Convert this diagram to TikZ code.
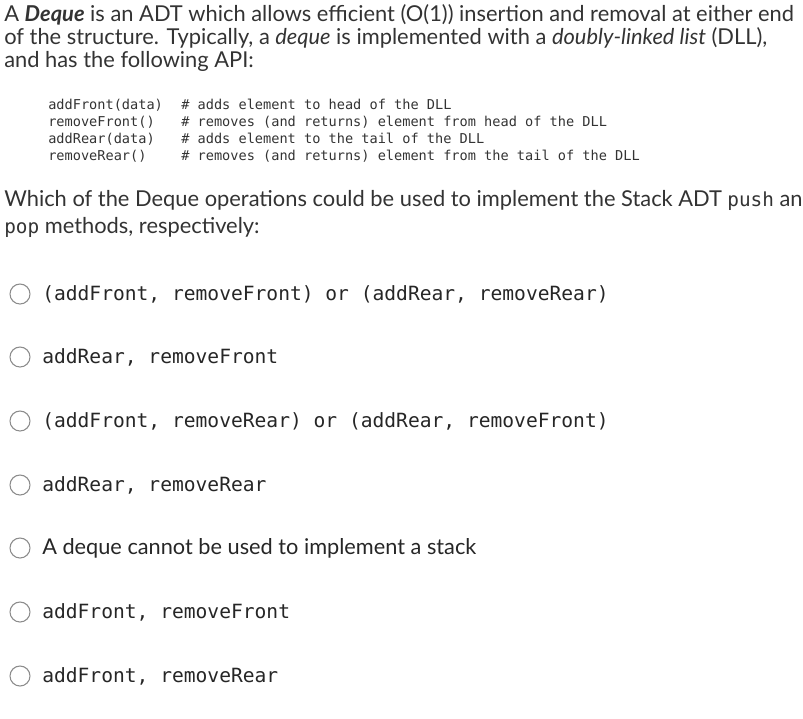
\documentclass[tikz,border=0pt]{standalone}
\usepackage{fontspec}
\setmainfont{Lato}
\setmonofont{DejaVu Sans Mono}
\newfontfamily\optmono{DejaVu Sans Mono}
\begin{document}
\begin{tikzpicture}[x=0.75pt,y=-0.75pt,
  body/.style={anchor=base west,inner sep=0pt,font=\fontsize{16.4}{19}\selectfont,text=black!80},
  code/.style={anchor=base west,inner sep=0pt,font=\ttfamily\fontsize{10.2}{12}\selectfont,text=black!80},
  opt/.style={anchor=base west,inner sep=0pt,font=\optmono\fontsize{14.7}{17}\selectfont,text=black!85},
  optt/.style={anchor=base west,inner sep=0pt,font=\fontsize{16.3}{19}\selectfont,text=black!85},
  radio/.style={circle,draw=black!45,line width=0.8pt,minimum size=15pt,inner sep=0pt}]
\useasboundingbox (0,0) rectangle (803,718);
\clip (0,0) rectangle (803,718);
\node[body] (l1) at (4,21) {A \textbf{\textit{Deque}} is an ADT which allows efficient (O(1)) insertion and removal at either end};
\node[body] (l2) at (4,44) {of the structure. Typically, a \textit{deque} is implemented with a \textit{doubly-linked list} (DLL),};
\node[body] (l3) at (4,67) {and has the following API:};
\node[code] (c1) at (48,109) {addFront(data)};
\node[code] (c2) at (48,126) {removeFront()};
\node[code] (c3) at (48,143) {addRear(data)};
\node[code] (c4) at (48,160) {removeRear()};
\node[code] (d1) at (181,109) {\# adds element to head of the DLL};
\node[code] (d2) at (181,126) {\# removes (and returns) element from head of the DLL};
\node[code] (d3) at (181,143) {\# adds element to the tail of the DLL};
\node[code] (d4) at (181,160) {\# removes (and returns) element from the tail of the DLL};
\node[body] (q1) at (4,206) {Which of the Deque operations could be used to implement the Stack ADT {\ttfamily\fontsize{14.5}{17}\selectfont push} and};
\node[body] (q2) at (4,233) {{\ttfamily\fontsize{14.5}{17}\selectfont pop} methods, respectively:};
\foreach \y/\t/\s [count=\i] in {294/{(addFront, removeFront) or (addRear, removeRear)}/opt,
  357/{addRear, removeFront}/opt,
  421/{(addFront, removeRear) or (addRear, removeFront)}/opt,
  485/{addRear, removeRear}/opt,
  548/{A deque cannot be used to implement a stack}/optt,
  612/{addFront, removeFront}/opt,
  676/{addFront, removeRear}/opt}{
  \node[radio] (r\i) at (20,\y) {};
  \node[\s] (o\i) at (42,\y+6) {\t};
}
\end{tikzpicture}
\end{document}
